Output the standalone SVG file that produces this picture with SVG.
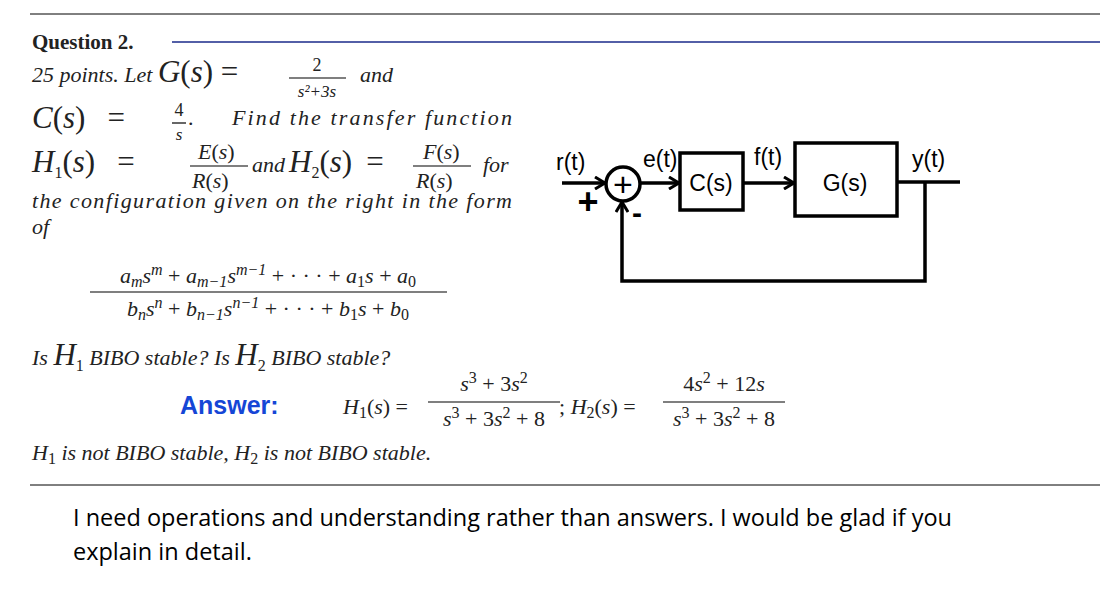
<svg xmlns="http://www.w3.org/2000/svg" width="1111" height="595" viewBox="0 0 1111 595">
<style>
text{font-size:22px}
.m{font-family:"Liberation Serif",serif;font-style:italic;fill:#222}
.r{font-family:"Liberation Serif",serif;font-style:normal;fill:#222}
.big{font-size:31px}
.sm{font-size:16px}
.d{font-family:"Liberation Sans",Arial,sans-serif;font-size:23px;fill:#000}
.w{stroke:#000;stroke-width:3.5;fill:none}
.b{stroke:#000;stroke-width:1.2}
</style>
<defs>
<marker id="a" markerWidth="14" markerHeight="14" refX="12" refY="7" orient="auto" markerUnits="userSpaceOnUse">
<path d="M2,1 L12,7 L2,13" fill="none" stroke="#000" stroke-width="3"/>
</marker>
</defs>
<rect width="1111" height="595" fill="#fff"/>
<line x1="30" y1="14" x2="1100" y2="14" stroke="#000" stroke-width="1"/>
<text x="32" y="49" style="font-family:'Liberation Serif',serif;font-weight:bold;font-size:21px" fill="#222">Question 2.</text>
<line x1="172" y1="42" x2="1100" y2="42" stroke="#1a2a8a" stroke-width="1.5"/>

<text x="32" y="82" class="m">25 points. Let <tspan class="big">G</tspan><tspan class="r big">(</tspan><tspan class="big">s</tspan><tspan class="r big">) =</tspan></text>
<text x="317" y="71" class="r" style="font-size:18px" text-anchor="middle">2</text>
<line x1="289" y1="78" x2="346" y2="78" class="b"/>
<text x="317" y="97" class="m" style="font-size:17px" text-anchor="middle">s²+3s</text>
<text x="360" y="82" class="m">and</text>

<text x="32" y="128" class="m big">C<tspan class="r">(</tspan>s<tspan class="r">)</tspan><tspan class="r" dx="22">=</tspan></text>
<text x="179" y="116" class="r" style="font-size:18px" text-anchor="middle">4</text>
<line x1="172" y1="123" x2="186" y2="123" class="b"/>
<text x="179" y="140" class="m" style="font-size:17px" text-anchor="middle">s</text>
<text x="188" y="125" class="r">.</text>
<text x="232" y="125" class="m" textLength="280">Find the transfer function</text>

<text x="32" y="172" class="m big">H<tspan class="r sm" dy="6">1</tspan><tspan class="r" dy="-6">(</tspan>s<tspan class="r">)</tspan><tspan class="r" dx="22">=</tspan></text>
<text x="198" y="159" class="m">E<tspan class="r">(</tspan>s<tspan class="r">)</tspan></text>
<line x1="190" y1="166" x2="248" y2="166" class="b"/>
<text x="192" y="188" class="m">R<tspan class="r">(</tspan>s<tspan class="r">)</tspan></text>
<text x="252" y="172" class="m">and</text>
<text x="289" y="172" class="m big">H<tspan class="r sm" dy="6">2</tspan><tspan class="r" dy="-6">(</tspan>s<tspan class="r">)</tspan><tspan class="r" dx="14">=</tspan></text>
<text x="423" y="159" class="m">F<tspan class="r">(</tspan>s<tspan class="r">)</tspan></text>
<line x1="413" y1="166" x2="471" y2="166" class="b"/>
<text x="416" y="188" class="m">R<tspan class="r">(</tspan>s<tspan class="r">)</tspan></text>
<text x="483" y="172" class="m">for</text>
<text x="32" y="208" class="m" textLength="480">the configuration given on the right in the form</text>
<text x="32" y="234" class="m">of</text>

<text x="268" y="283" class="m" text-anchor="middle">a<tspan class="sm" dy="4">m</tspan><tspan dy="-4">s</tspan><tspan class="sm" dy="-8">m</tspan><tspan class="r" dy="8"> + </tspan>a<tspan class="sm" dy="4">m−1</tspan><tspan dy="-4">s</tspan><tspan class="sm" dy="-8">m−1</tspan><tspan class="r" dy="8"> + · · · + </tspan>a<tspan class="r sm" dy="4">1</tspan><tspan dy="-4">s</tspan><tspan class="r"> + </tspan>a<tspan class="r sm" dy="4">0</tspan></text>
<line x1="90" y1="292" x2="447" y2="292" class="b"/>
<text x="268" y="316" class="m" text-anchor="middle">b<tspan class="sm" dy="4">n</tspan><tspan dy="-4">s</tspan><tspan class="sm" dy="-8">n</tspan><tspan class="r" dy="8"> + </tspan>b<tspan class="sm" dy="4">n−1</tspan><tspan dy="-4">s</tspan><tspan class="sm" dy="-8">n−1</tspan><tspan class="r" dy="8"> + · · · + </tspan>b<tspan class="r sm" dy="4">1</tspan><tspan dy="-4">s</tspan><tspan class="r"> + </tspan>b<tspan class="r sm" dy="4">0</tspan></text>

<text x="32" y="365" class="m">Is <tspan class="big">H</tspan><tspan class="r sm" dy="6">1</tspan><tspan dy="-6"> BIBO stable? Is </tspan><tspan class="big">H</tspan><tspan class="r sm" dy="6">2</tspan><tspan dy="-6">  BIBO stable?</tspan></text>

<text x="180" y="414" style="font-family:'Liberation Sans',sans-serif;font-weight:bold;font-size:25px" fill="#1546d6">Answer:</text>
<text x="343" y="414" class="m">H<tspan class="r sm" dy="4">1</tspan><tspan class="r" dy="-4">(</tspan>s<tspan class="r">) =</tspan></text>
<text x="494" y="391" class="m" text-anchor="middle">s<tspan class="r sm" dy="-8">3</tspan><tspan class="r" dy="8"> + 3</tspan>s<tspan class="r sm" dy="-8">2</tspan></text>
<line x1="428" y1="402" x2="560" y2="402" class="b"/>
<text x="494" y="426" class="m" text-anchor="middle">s<tspan class="r sm" dy="-8">3</tspan><tspan class="r" dy="8"> + 3</tspan>s<tspan class="r sm" dy="-8">2</tspan><tspan class="r" dy="8"> + 8</tspan></text>
<text x="559" y="414" class="r">; <tspan class="m">H</tspan><tspan class="sm" dy="4">2</tspan><tspan dy="-4">(</tspan><tspan class="m">s</tspan>) =</text>
<text x="724" y="391" class="r" text-anchor="middle">4<tspan class="m">s</tspan><tspan class="sm" dy="-8">2</tspan><tspan dy="8"> + 12</tspan><tspan class="m">s</tspan></text>
<line x1="663" y1="402" x2="785" y2="402" class="b"/>
<text x="724" y="426" class="m" text-anchor="middle">s<tspan class="r sm" dy="-8">3</tspan><tspan class="r" dy="8"> + 3</tspan>s<tspan class="r sm" dy="-8">2</tspan><tspan class="r" dy="8"> + 8</tspan></text>

<text x="32" y="460" class="m">H<tspan class="r sm" dy="4">1</tspan><tspan dy="-4"> is not BIBO stable, </tspan>H<tspan class="r sm" dy="4">2</tspan><tspan dy="-4"> is not BIBO stable.</tspan></text>
<line x1="30" y1="485" x2="1100" y2="485" stroke="#000" stroke-width="1"/>

<text x="73" y="526" style="font-family:'Open Sans',sans-serif;font-size:23.5px" fill="#000">I need operations and understanding rather than answers. I would be glad if you</text>
<text x="73" y="560" style="font-family:'Open Sans',sans-serif;font-size:23.5px" fill="#000">explain in detail.</text>

<g id="connectors">
<line x1="562" y1="183" x2="605" y2="183" class="w" marker-end="url(#a)"/>
<line x1="641" y1="183" x2="679" y2="183" class="w" marker-end="url(#a)"/>
<line x1="743" y1="183" x2="794" y2="183" class="w" marker-end="url(#a)"/>
<line x1="897" y1="182" x2="960" y2="182" class="w"/>
<polyline points="925,182 925,281 622,281 622,202" class="w" marker-end="url(#a)"/>
</g>
<g id="sum">
<circle cx="623" cy="184" r="17" class="w" stroke-width="3"/>
<text x="623" y="196" class="d" style="font-size:34px" text-anchor="middle">+</text>
</g>
<g id="C"><rect x="680" y="153" width="63" height="57" class="w" stroke-width="3"/><text x="711" y="191" class="d" text-anchor="middle">C(s)</text></g>
<g id="G"><rect x="795" y="143" width="102" height="73" class="w" stroke-width="3"/><text x="845" y="191" class="d" text-anchor="middle">G(s)</text></g>
<g id="labels">
<text x="556" y="170" class="d">r(t)</text>
<text x="643" y="167" class="d">e(t)</text>
<text x="754" y="165" class="d">f(t)</text>
<text x="912" y="167" class="d">y(t)</text>
<text x="588" y="214" class="d" style="font-size:36px;font-weight:bold" text-anchor="middle">+</text>
<text x="632" y="223" class="d" style="font-size:30px;font-weight:bold">-</text>
</g>
</svg>
